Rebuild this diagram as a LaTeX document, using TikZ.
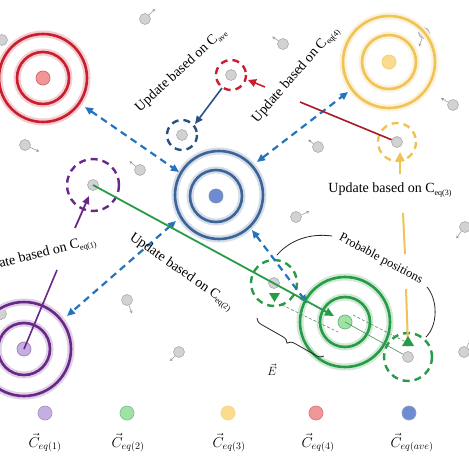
\documentclass[tikz,border=0pt]{standalone}
\usepackage{fontspec}
\setmainfont{Liberation Serif}
\usetikzlibrary{arrows.meta,decorations.pathreplacing}
\definecolor{cred}{RGB}{200,30,45}
\definecolor{credf}{RGB}{240,150,150}
\definecolor{cblue}{RGB}{60,100,150}
\definecolor{cbluef}{RGB}{110,140,210}
\definecolor{cyel}{RGB}{240,195,85}
\definecolor{cyelf}{RGB}{250,220,140}
\definecolor{cgreen}{RGB}{40,155,70}
\definecolor{cgreenf}{RGB}{160,225,165}
\definecolor{cpur}{RGB}{105,40,135}
\definecolor{cpurf}{RGB}{195,175,225}
\definecolor{cdash}{RGB}{35,115,190}
\definecolor{cdblue}{RGB}{40,80,130}
\newcommand{\Csub}[1]{C\raisebox{-0.45ex}{\fontsize{8}{8}\selectfont #1}}
\tikzset{
  ptcl/.style={circle,fill=gray!35,draw=gray!65,line width=0.6pt,minimum size=11pt,inner sep=0pt},
  parr/.style={gray!80,line width=0.6pt,-{Stealth[length=3pt,width=3pt]}},
  ringglow/.style={line width=7pt,draw=#1!22},
  ring/.style={line width=2.6pt,draw=#1},
  dcirc/.style={line width=2.4pt,draw=#1,dash pattern=on 7pt off 5pt},
  blued/.style={cdash,line width=2.2pt,dash pattern=on 7pt off 5pt,{Triangle[length=8pt,width=7pt]}-{Triangle[length=8pt,width=7pt]}},
  upd/.style={font=\fontsize{14}{16}\selectfont,inner sep=0pt},
  cdot/.style={circle,minimum size=14pt,inner sep=0pt,line width=0.7pt},
  leg/.style={font=\fontsize{14}{16}\selectfont,inner sep=0pt}
}
\begin{document}
\begin{tikzpicture}[x=1pt,y=-1pt]
\useasboundingbox (0,0) rectangle (469,469);
\clip (0,0) rectangle (469,469);
\fill[white] (0,0) rectangle (469,469);

% background particles
\node[ptcl] (b1) at (145,19) {};
\node[ptcl] (b2) at (2,40) {};
\node[ptcl] (b3) at (25,145) {};
\node[ptcl] (b4) at (140,170) {};
\node[ptcl] (b5) at (283,44) {};
\node[ptcl] (b6) at (424,33) {};
\node[ptcl] (b7) at (453,105) {};
\node[ptcl] (b8) at (318,147) {};
\node[ptcl] (b9) at (296,217) {};
\node[ptcl] (b10) at (465,227) {};
\node[ptcl] (b11) at (127,300) {};
\node[ptcl] (b12) at (179,352) {};
\node[ptcl] (b13) at (1,314) {};
\node[ptcl] (b14) at (464,352) {};
\draw[parr] (b1.45) -- ++(6,-6);
\draw[parr] (b3.-25) -- ++(9,4);
\draw[parr] (b4.140) -- ++(-6,-5);
\draw[parr] (b5.145) -- ++(-6,-4);
\draw[parr] (b6.-110) -- ++(-3,8);
\draw[parr] (b7.150) -- ++(-7,-4);
\draw[parr] (b8.145) -- ++(-5,-4);
\draw[parr] (b9.20) -- ++(8,-4);
\draw[parr] (b10.-130) -- ++(-5,7);
\draw[parr] (b11.-70) -- ++(3,8);
\draw[parr] (b12.-135) -- ++(-5,5);
\draw[parr] (b14.60) -- ++(4,-8);

% concentric rings
\foreach \c/\x/\y/\ri/\ro in {cred/43/78/26/44, cyel/389/62/27/46, cgreen/345/322/25/45, cpur/24/349/26/47}{
  \draw[ringglow=\c] (\x,\y) circle[radius=\ri];
  \draw[ringglow=\c] (\x,\y) circle[radius=\ro];
  \draw[ring=\c] (\x,\y) circle[radius=\ri];
  \draw[ring=\c] (\x,\y) circle[radius=\ro];
}
\draw[ringglow=cblue] (216,196) circle[radius=26];
\draw[ringglow=cblue] (219,195) circle[radius=44];
\draw[ring=cblue] (216,196) circle[radius=26];
\draw[ring=cblue] (219,195) circle[radius=44];

\node[cdot,fill=credf,draw=cred!70] (cr) at (43,78) {};
\node[cdot,fill=cyelf,draw=cyel!80] (cy) at (389,62) {};
\node[cdot,fill=cgreenf,draw=cgreen!70] (cg) at (345,322) {};
\node[cdot,fill=cpurf,draw=cpur!60] (cp) at (24,349) {};
\node[cdot,fill=cbluef,draw=cblue!70] (cb) at (216,196) {};

% dashed circles with particles
\draw[dcirc=cred] (231,75) circle[radius=15];
\draw[dcirc=cdblue] (182,135) circle[radius=15];
\draw[dcirc=cyel] (397,142) circle[radius=19];
\draw[dcirc=cpur] (93,185) circle[radius=26];
\draw[dcirc=cgreen] (274,283) circle[radius=23];
\draw[dcirc=cgreen] (408,357) circle[radius=24];
\node[ptcl] (pr) at (231,75) {};
\node[ptcl] (pb) at (182,135) {};
\node[ptcl] (py) at (397,142) {};
\node[ptcl] (pp) at (93,185) {};
\node[ptcl] (pg) at (274,283) {};
\node[ptcl] (pg2) at (408,357) {};

% blue dashed double arrows
\coordinate (a1) at (85,107); \coordinate (a2) at (179,172);
\coordinate (a3) at (257,162); \coordinate (a4) at (348,92);
\coordinate (a5) at (176,221); \coordinate (a6) at (67,316);
\coordinate (a7) at (252,230); \coordinate (a8) at (307,303);
\draw[blued] (a1) -- (a2);
\draw[blued] (a3) -- (a4);
\draw[blued] (a5) -- (a6);
\draw[blued] (a7) -- (a8);

% dark blue arrow from red dashed to blue dashed
\coordinate (d1) at (222,88); \coordinate (d2) at (195,124);
\draw[cdblue,line width=1.6pt,-{Triangle[length=8pt,width=7pt]}] (d1) -- (d2);

% red line (C_eq(4))
\coordinate (r1) at (300,102); \coordinate (r2) at (265,87); \coordinate (r3) at (248,80);
\draw[cred!85!black,line width=1.6pt] (py) -- (r1);
\draw[cred,line width=1.6pt,-{Triangle[length=8pt,width=8pt]}] (r2) -- (r3);

% yellow arrow and line
\coordinate (y1) at (400,174); \coordinate (y2) at (400,152);
\draw[cyel,line width=2pt,-{Triangle[length=9pt,width=9pt]}] (y1) -- (y2);
\coordinate (y3) at (403,213); \coordinate (y4) at (405,254);
\coordinate (y5) at (406,289); \coordinate (y6) at (408,346);
\draw[cyel,line width=2pt] (y3) -- (y4);
\draw[cyel,line width=2pt] (y5) -- (y6);

% purple line and arrow
\coordinate (u1) at (57,270); \coordinate (u2) at (75,228); \coordinate (u3) at (89,196);
\draw[cpur,line width=1.6pt] (cp.center) -- (u1);
\draw[cpur,line width=1.8pt,-{Triangle[length=8pt,width=7pt]}] (u2) -- (u3);

% green main line
\coordinate (gE) at (334,316);
\draw[cgreen,line width=1.8pt,-{Triangle[length=9pt,width=8pt]}] (pp.center) -- (gE);
\draw[cgreen!60!gray,line width=0.6pt] (cg.center) -- (pg2);
\draw[cgreen!40!gray,line width=0.6pt,dash pattern=on 3pt off 2pt] (282,305) -- (338,332);
\draw[cgreen!40!gray,line width=0.6pt,dash pattern=on 3pt off 2pt] (353,315) -- (406,342);
% green triangles
\fill[cgreen] (269,293) -- (280,293) -- (274.5,302) -- cycle;
\fill[cgreen] (402,346) -- (414,346) -- (408,336) -- cycle;

% probable positions arcs
\coordinate (q1) at (277,255); \coordinate (q2) at (332,236);
\coordinate (q3) at (427,287); \coordinate (q4) at (426,337);
\draw[black!85,line width=0.8pt] (q1) .. controls (290,240) and (310,233) .. (q2);
\draw[black!85,line width=0.8pt] (q3) .. controls (438,300) and (438,325) .. (q4);
\node[font=\fontsize{12.5}{14}\selectfont,rotate=-28,inner sep=0pt] (tp) at (381,259) {Probable positions};

% brace E
\coordinate (e1) at (257,318); \coordinate (e2) at (324,356);
\draw[black!85,line width=0.8pt,decorate,decoration={brace,amplitude=7pt,mirror}] (e1) -- (e2);
\node[font=\fontsize{13}{14}\selectfont,inner sep=0pt] (tE) at (272,370) {$\vec{E}$};

% update texts
\node[upd,rotate=42.4] (t1) at (181,70) {Update based on \Csub{ave}};
\node[upd,rotate=48.9] (t2) at (296,75) {Update based on \Csub{eq(4)}};
\node[upd] (t3) at (390,190) {Update based on \Csub{eq(3)}};
\node[upd,rotate=-34.8] (t4) at (181,272) {Update based on \Csub{eq(2)}};
\node[upd,rotate=14] (t5) at (36,256) {Update based on \Csub{eq(1)}};

% legend
\node[cdot,fill=cpurf,draw=cpur!50] (l1) at (45,413) {};
\node[cdot,fill=cgreenf,draw=cgreen!60] (l2) at (127,413) {};
\node[cdot,fill=cyelf,draw=cyel!70] (l3) at (228,413) {};
\node[cdot,fill=credf,draw=cred!60] (l4) at (316,413) {};
\node[cdot,fill=cbluef,draw=cblue!60] (l5) at (409,413) {};
\node[leg] (k1) at (45,443) {$\vec{C}_{eq(1)}$};
\node[leg] (k2) at (128,443) {$\vec{C}_{eq(2)}$};
\node[leg] (k3) at (229,443) {$\vec{C}_{eq(3)}$};
\node[leg] (k4) at (318,443) {$\vec{C}_{eq(4)}$};
\node[leg] (k5) at (412,443) {$\vec{C}_{eq(ave)}$};
\end{tikzpicture}
\end{document}
